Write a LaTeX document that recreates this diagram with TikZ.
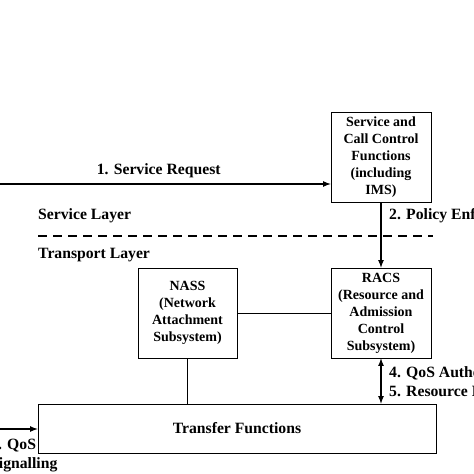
\documentclass[tikz,border=0pt]{standalone}
\usepackage{fontspec}
\setmainfont{Liberation Serif}
\usetikzlibrary{arrows,calc,positioning}
\tikzset{%
	block/.style    = {draw, rectangle, line width=0.6pt, align=center, minimum width=100pt, minimum height=90pt, inner sep=1pt, font=\fontsize{14}{17}\selectfont\bfseries}, % Function block
	label/.style    = {anchor=west, inner sep=0pt}, % Plain text
	waypoint/.style = {coordinate},
	arrow/.style    = {line width=1.6pt,-latex},
	biarrow/.style  = {line width=1.6pt,latex-latex},
	layer/.style    = {line width=1.6pt, dash pattern=on 9pt off 6pt},
}

\begin{document}
\begin{tikzpicture}[x=1pt, y=-1pt, font=\fontsize{15.7}{18.5}\selectfont\bfseries]
	\useasboundingbox[fill=white] (0,0) rectangle (474,474);
	\node[block] (scf) at (381,157) {Service and\\Call Control\\Functions\\(including\\IMS)};
	\node[block] (racs) at (381,313) {RACS\\(Resource and\\Admission\\Control\\Subsystem)};
	\node[block,minimum width=99pt] (nass) at (187.5,313) {NASS\\(Network\\Attachment\\Subsystem)};
	\node[block,minimum width=398pt,minimum height=49pt,font=\fontsize{15.7}{18.5}\selectfont\bfseries] (tf) at (237,428.5) {Transfer Functions};
	\node[waypoint] (req) at (0,184) {};
	\node[waypoint] (qos) at (0,429) {};
	\node[waypoint] (dl1) at (38,236) {};
	\node[waypoint] (dl2) at (433,236) {};
	
	\node[label] (sl) at (38,216) {Service Layer};
	\node[label] (tl) at (38,255) {Transport Layer};
	\node[label] (pe) at (389,216) {2. Policy Enforcement};
	\node[label] (qa) at (389,373) {4. QoS Authorization};
	\node[label] (rr) at (389,391) {5. Resource Reservation};
	\node[label,align=left,anchor=north west] (qs) at (-10,439) {3. QoS\\Signalling};
	
	\draw[arrow] (req) -- node[pos=0.48,above,yshift=2pt] {1. Service Request} (req -| scf.west);
	\draw[arrow] (scf.south) -- (racs.north);
	\draw[layer] (dl1) -- (dl2);
	\draw[line width=0.6pt] (nass.east) -- (racs.west);
	\draw[line width=0.6pt] (nass.south) -- (nass.south |- tf.north);
	\draw[biarrow] (racs.south) -- (racs.south |- tf.north);
	\draw[arrow] (qos) -- (qos -| tf.west);
\end{tikzpicture}
\end{document}
